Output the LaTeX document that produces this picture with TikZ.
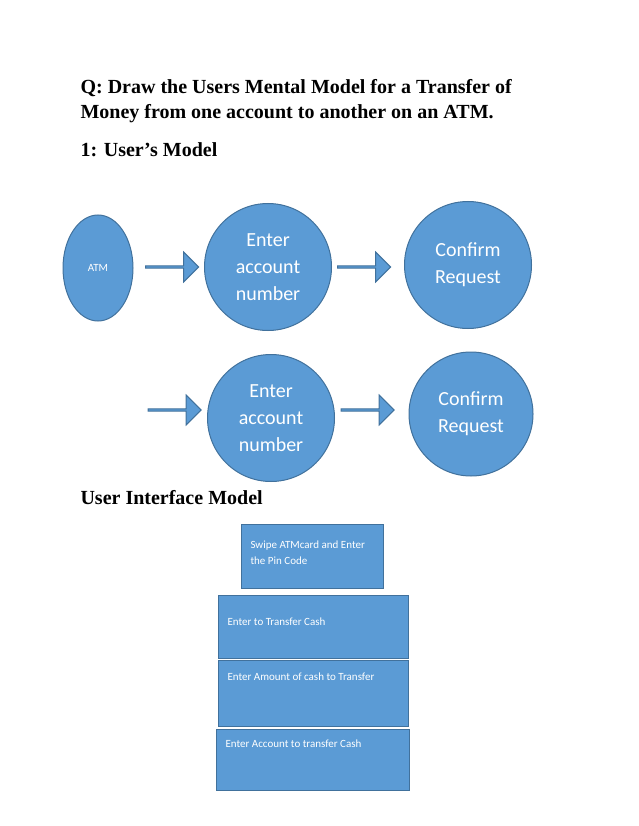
\documentclass[tikz,border=0pt]{standalone}
\usepackage{fontspec}
\setmainfont{Liberation Serif}
\newfontfamily\calfont{Carlito}
\usetikzlibrary{shapes.geometric,shapes.arrows}
\definecolor{fillb}{HTML}{5B9BD5}
\definecolor{edgeb}{HTML}{41719C}
\begin{document}
\begin{tikzpicture}[x=1pt,y=-1pt,
  blob/.style={circle,fill=fillb,draw=edgeb,line width=1pt,minimum size=127pt,inner sep=0pt,text=white,font=\calfont\fontsize{20}{27}\selectfont,align=center},
  arr/.style={single arrow,fill=fillb,draw=edgeb,line width=1pt,minimum height=53pt,minimum width=30pt,single arrow head extend=6pt,single arrow tip angle=90,inner sep=0pt},
  box/.style={rectangle,fill=fillb,draw=edgeb,line width=1pt,anchor=north west,inner sep=0pt},
  btxt/.style={anchor=west,text=white,font=\calfont\fontsize{11}{16}\selectfont,align=left},
  head/.style={anchor=base west,font=\bfseries\fontsize{20}{24}\selectfont}]
\useasboundingbox (0,0) rectangle (638,826);
\node[head] (t1) at (77,94) {Q: Draw the Users Mental Model for a Transfer of};
\node[head] (t2) at (77,119) {Money from one account to another on an ATM.};
\node[head] (t3) at (77,157) {1: User’s Model};
\node[head] (t4) at (77,504) {User Interface Model};
\node[ellipse,fill=fillb,draw=edgeb,line width=1pt,minimum width=70pt,minimum height=106pt,text=white,font=\calfont\fontsize{11}{13}\selectfont] (atm) at (98,268) {ATM};
\node[arr] (a1) at (171.5,267) {};
\node[blob] (c1) at (268,267) {Enter\\account\\number};
\node[arr] (a2) at (363.5,267) {};
\node[blob] (c2) at (468,265) {Confirm\\Request};
\node[arr] (a3) at (174,410) {};
\node[blob] (c3) at (271,418) {Enter\\account\\number};
\node[arr] (a4) at (367,410) {};
\node[blob,minimum size=124pt] (c4) at (471,414) {Confirm\\Request};
\node[box,minimum width=142pt,minimum height=64pt] (r1) at (241,524) {};
\node[btxt] (l1) at (247,553) {Swipe ATMcard and Enter\\the Pin Code};
\node[box,minimum width=190pt,minimum height=63pt] (r2) at (218,595) {};
\node[btxt] (l2) at (224,622) {Enter to Transfer Cash};
\node[box,minimum width=190pt,minimum height=66pt] (r3) at (218,660) {};
\node[btxt] (l3) at (224,677) {Enter Amount of cash to Transfer};
\node[box,minimum width=193pt,minimum height=61pt] (r4) at (216,729) {};
\node[btxt] (l4) at (222,744) {Enter Account to transfer Cash};
\end{tikzpicture}
\end{document}
